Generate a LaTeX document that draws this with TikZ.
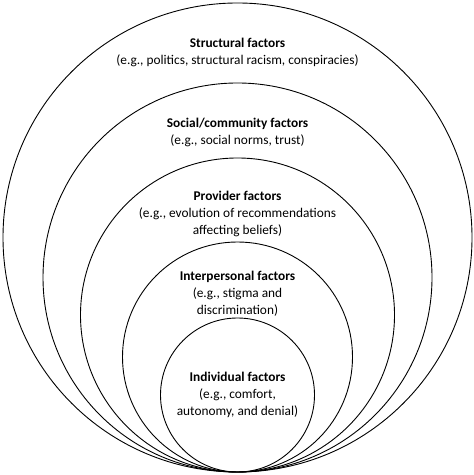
\documentclass[tikz,border=0pt]{standalone}
\usepackage{fontspec}
\setmainfont{Carlito}

\begin{document}
\begin{tikzpicture}[x=1bp,y=1bp,
    ring/.style={draw=black,line width=0.9bp},
    label/.style={align=center,font=\fontsize{13.4}{17}\selectfont,inner sep=0pt}]
    \useasboundingbox (0,0) rectangle (474,475);

    % nested circles, all touching at the bottom
    \draw[ring] (237.5,237.5) circle (234.5);
    \draw[ring] (237.5,197.5) circle (194.5);
    \draw[ring] (237.5,160)   circle (157);
    \draw[ring] (237.5,118)   circle (115);
    \draw[ring] (237.5,80)    circle (77);

    \node[label] (structural)    at (237.5,422.5) {\textbf{Structural factors}\\(e.g., politics, structural racism, conspiracies)};
    \node[label] (community)     at (237.5,342.5) {\textbf{Social/community factors}\\(e.g., social norms, trust)};
    \node[label] (provider)      at (237.5,261)   {\textbf{Provider factors}\\(e.g., evolution of recommendations\\affecting beliefs)};
    \node[label] (interpersonal) at (237.5,181.5) {\textbf{Interpersonal factors}\\(e.g., stigma and\\discrimination)};
    \node[label] (individual)    at (237.5,80.5)  {\textbf{Individual factors}\\(e.g., comfort,\\autonomy, and denial)};
\end{tikzpicture}
\end{document}
